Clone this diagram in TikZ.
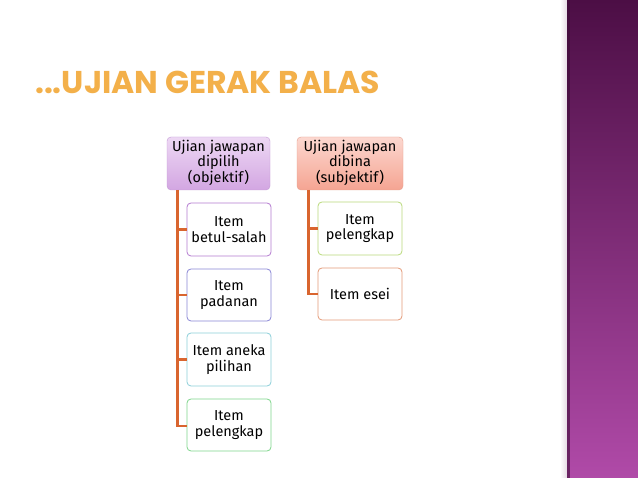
\documentclass[tikz,border=0pt]{standalone}
\usepackage{fontspec}
\setmainfont{Fira Sans}
\newfontfamily\titlefont{Poppins}
\usetikzlibrary{backgrounds}
\definecolor{lineor}{HTML}{D9652F}
\definecolor{titleor}{HTML}{F3B04A}
\definecolor{barTop}{HTML}{4C0E45}
\definecolor{barBot}{HTML}{B04AA8}
\definecolor{pLtop}{HTML}{EDD8F4}
\definecolor{pLbot}{HTML}{D3A6E2}
\definecolor{pLdraw}{HTML}{C49AD6}
\definecolor{pRtop}{HTML}{FCD8D0}
\definecolor{pRbot}{HTML}{F5A492}
\definecolor{pRdraw}{HTML}{E6A08E}
\definecolor{cA}{HTML}{B57BD0}
\definecolor{cB}{HTML}{8A87D6}
\definecolor{cC}{HTML}{8CCFD9}
\definecolor{cD}{HTML}{7FD68C}
\definecolor{cE}{HTML}{B9DA7A}
\definecolor{cF}{HTML}{E49A78}
\tikzset{
  lbl/.style={font=\fontsize{14.5}{15.5}\selectfont, align=center, text=black},
  childbox/.style={rounded corners=4pt, line width=0.8pt, fill=white},
  conn/.style={draw=lineor, line width=2.6pt},
}
\begin{document}
\begin{tikzpicture}[x=1pt,y=-1pt]
\useasboundingbox (0,0) rectangle (638,478);
\fill[white] (0,0) rectangle (638,478);
% right bar
\fill[left color=white, right color=barTop!15] (560,0) rectangle (567,478);
\shade[top color=barTop, bottom color=barBot] (567,0) rectangle (638,478);
\fill[barTop!80!black, opacity=0.6] (567,0) rectangle (569.5,478);
% title
\node[anchor=base west, inner sep=0, text=titleor, font=\titlefont\bfseries\fontsize{31.5}{32}\selectfont] (title) at (35,94) {...UJIAN GERAK BALAS};
% parent boxes
\shade[rounded corners=4pt, top color=pLtop, bottom color=pLbot, draw=pLdraw] (167,137) rectangle (270,190);
\node[lbl] (pL) at (218.5,162.5) {Ujian jawapan\\dipilih\\(objektif)};
\shade[rounded corners=4pt, top color=pRtop, bottom color=pRbot, draw=pRdraw] (297,137) rectangle (403,190);
\node[lbl] (pR) at (350,162.5) {Ujian jawapan\\dibina\\(subjektif)};
\coordinate (Ltop) at (177.5,190);
\coordinate (Rtop) at (308.5,190);
% children left
\draw[childbox, draw=cA] (187,203) rectangle (271,256);
\node[lbl] (c1) at (229,229.5) {Item\\betul-salah};
\draw[childbox, draw=cB] (187,269) rectangle (271,321);
\node[lbl] (c2) at (229,295) {Item\\padanan};
\draw[childbox, draw=cC] (187,333) rectangle (271,386);
\node[lbl] (c3) at (229,359.5) {Item aneka\\pilihan};
\draw[childbox, draw=cD] (187,399) rectangle (271,451);
\node[lbl] (c4) at (229,425) {Item\\pelengkap};
% children right
\draw[childbox, draw=cE] (318,202) rectangle (402,255);
\node[lbl] (d1) at (360,228.5) {Item\\pelengkap};
\draw[childbox, draw=cF] (318,268) rectangle (402,320);
\node[lbl] (d2) at (360,294) {Item esei};
% connectors
\draw[conn] (Ltop) |- (187,426);
\draw[conn] (177.5,229.5) -- (187,229.5);
\draw[conn] (177.5,295) -- (187,295);
\draw[conn] (177.5,359.5) -- (187,359.5);
\draw[conn] (Rtop) |- (318,294);
\draw[conn] (308.5,228.5) -- (318,228.5);
\end{tikzpicture}
\end{document}
